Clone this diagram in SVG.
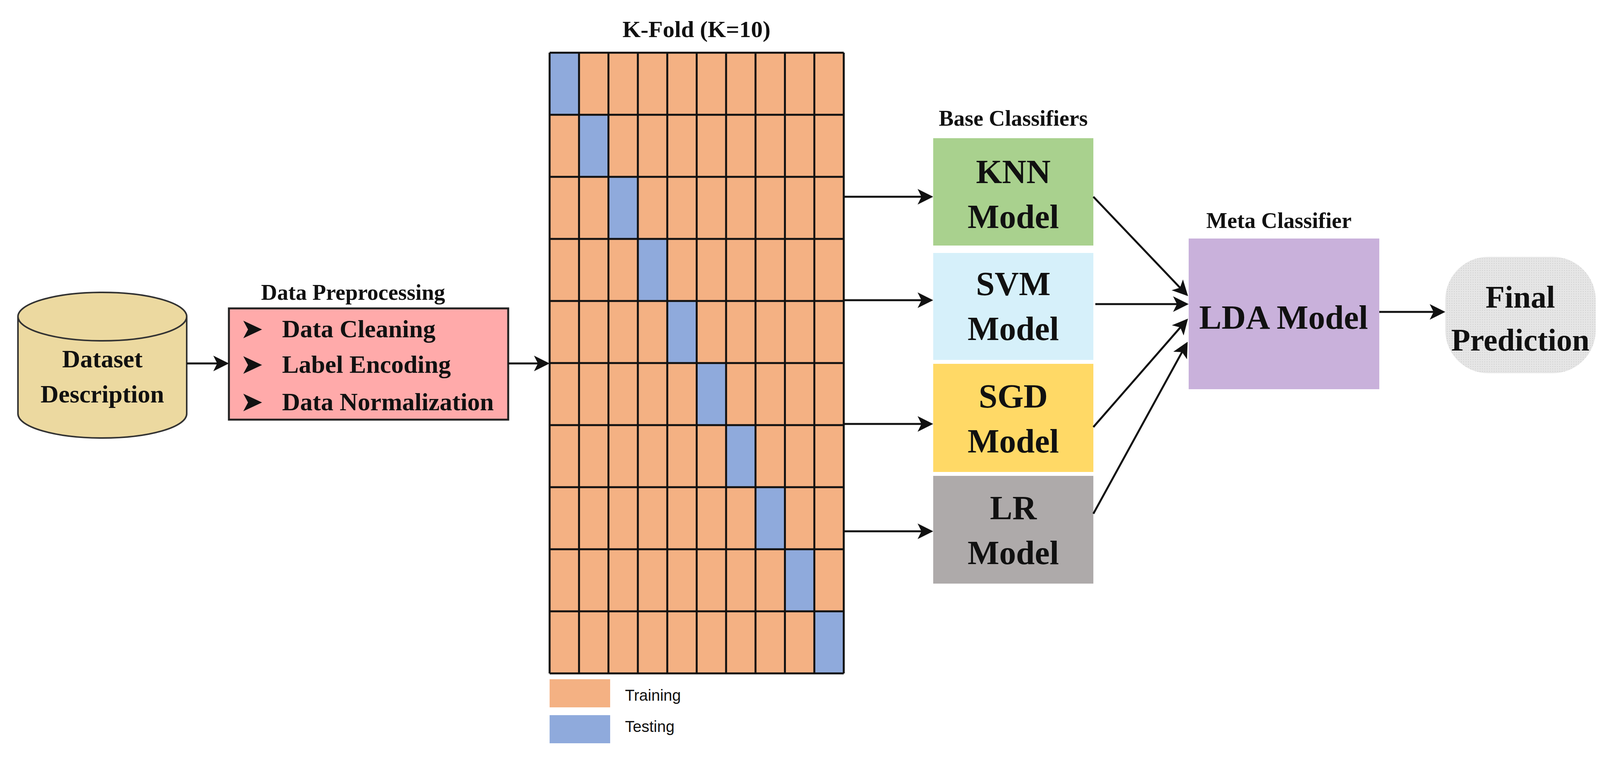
<svg xmlns="http://www.w3.org/2000/svg" width="4228" height="1952" viewBox="0 0 4228 1952">
<style>
.t{font-family:"Liberation Serif",serif;font-weight:bold;fill:#111;text-anchor:middle}
.h{font-size:57px}
.n{font-size:86px}
.i{font-size:64px;text-anchor:start}
.lg{font-family:"Liberation Sans",sans-serif;font-size:40px;fill:#111}
.tr{fill:#f4b183}
.te{fill:#8faadc}
.c{stroke:#111;stroke-width:5;fill:none}
</style>
<defs>
<marker id="a" markerWidth="8" markerHeight="8" refX="7" refY="4" orient="auto" markerUnits="strokeWidth"><path d="M0,0 L8,4 L0,8 L2,4 z" fill="#111"/></marker>
<pattern id="dots" width="6" height="6" patternUnits="userSpaceOnUse"><rect width="6" height="6" fill="#e6e6e6"/><circle cx="3" cy="3" r="1.2" fill="#cfcfcf"/></pattern>
</defs>
<rect width="4228" height="1952" fill="#fff"/>

<g id="dataset">
<path d="M46,811 L46,1060 A216,62 0 0 0 478,1060 L478,811" fill="#ecd9a0" stroke="#333" stroke-width="4"/>
<ellipse cx="262" cy="811" rx="216" ry="62" fill="#ecd9a0" stroke="#333" stroke-width="4"/>
<text class="t" x="262" y="941" font-size="64">Dataset</text>
<text class="t" x="262" y="1031" font-size="64">Description</text>
</g>

<g id="preprocessing">
<text class="t h" x="904" y="768">Data Preprocessing</text>
<rect x="586" y="790" width="715" height="285" fill="#ffaaaa" stroke="#222" stroke-width="5"/>
<text class="t i" x="618" y="864">➤</text><text class="t i" x="722" y="864">Data Cleaning</text>
<text class="t i" x="618" y="955">➤</text><text class="t i" x="722" y="955">Label Encoding</text>
<text class="t i" x="618" y="1051">➤</text><text class="t i" x="722" y="1051">Data Normalization</text>
</g>

<g id="kfold">
<text class="t" x="1783" y="95" font-size="60">K-Fold (K=10)</text>
<rect x="1407" y="135" width="753" height="1590" class="tr"/>
<g class="te">
<rect x="1407" y="135" width="75.3" height="159"/>
<rect x="1482.3" y="294" width="75.3" height="159"/>
<rect x="1557.6" y="453" width="75.3" height="159"/>
<rect x="1632.9" y="612" width="75.3" height="159"/>
<rect x="1708.2" y="771" width="75.3" height="159"/>
<rect x="1783.5" y="930" width="75.3" height="159"/>
<rect x="1858.8" y="1089" width="75.3" height="159"/>
<rect x="1934.1" y="1248" width="75.3" height="159"/>
<rect x="2009.4" y="1407" width="75.3" height="159"/>
<rect x="2084.7" y="1566" width="75.3" height="159"/>
</g>
<g stroke="#111" stroke-width="5">
<path d="M1407,135H2160M1407,294H2160M1407,453H2160M1407,612H2160M1407,771H2160M1407,930H2160M1407,1089H2160M1407,1248H2160M1407,1407H2160M1407,1566H2160M1407,1725H2160"/>
<path d="M1407,135V1725M1482.3,135V1725M1557.6,135V1725M1632.9,135V1725M1708.2,135V1725M1783.5,135V1725M1858.8,135V1725M1934.1,135V1725M2009.4,135V1725M2084.7,135V1725M2160,135V1725"/>
</g>
</g>

<g id="legend">
<rect x="1407" y="1740" width="155" height="72" class="tr"/>
<rect x="1407" y="1832" width="155" height="72" class="te"/>
<text class="lg" x="1600" y="1795">Training</text>
<text class="lg" x="1600" y="1875">Testing</text>
</g>

<text class="t h" x="2594" y="322">Base Classifiers</text>
<g id="knn"><rect x="2389" y="354" width="410" height="275" fill="#a9d18e"/><text class="t n" x="2594" y="469">KNN</text><text class="t n" x="2594" y="584">Model</text></g>
<g id="svm"><rect x="2389" y="648" width="410" height="274" fill="#d6f0fa"/><text class="t n" x="2594" y="756">SVM</text><text class="t n" x="2594" y="871">Model</text></g>
<g id="sgd"><rect x="2389" y="932" width="410" height="277" fill="#ffd966"/><text class="t n" x="2594" y="1044">SGD</text><text class="t n" x="2594" y="1159">Model</text></g>
<g id="lr"><rect x="2389" y="1219" width="410" height="276" fill="#aeaaaa"/><text class="t n" x="2594" y="1330">LR</text><text class="t n" x="2594" y="1445">Model</text></g>

<text class="t h" x="3274" y="584">Meta Classifier</text>
<g id="lda"><rect x="3043" y="611" width="488" height="386" fill="#c9b1db"/><text class="t n" x="3286" y="842">LDA Model</text></g>

<g id="final"><rect x="3700" y="658" width="385" height="298" rx="110" fill="url(#dots)"/><text class="t" font-size="80" x="3892" y="788">Final</text><text class="t" font-size="80" x="3892" y="898">Prediction</text></g>

<g id="connectors">
<path class="c" marker-end="url(#a)" d="M478,931H581"/>
<path class="c" marker-end="url(#a)" d="M1301,931H1402"/>
<path class="c" marker-end="url(#a)" d="M2160,504H2384"/>
<path class="c" marker-end="url(#a)" d="M2160,769H2384"/>
<path class="c" marker-end="url(#a)" d="M2160,1086H2384"/>
<path class="c" marker-end="url(#a)" d="M2160,1361H2384"/>
<path class="c" marker-end="url(#a)" d="M2799,504L3038,755"/>
<path class="c" marker-end="url(#a)" d="M2804,779H3038"/>
<path class="c" marker-end="url(#a)" d="M2799,1094L3038,820"/>
<path class="c" marker-end="url(#a)" d="M2799,1316L3038,880"/>
<path class="c" marker-end="url(#a)" d="M3531,799H3695"/>
</g>
</svg>
